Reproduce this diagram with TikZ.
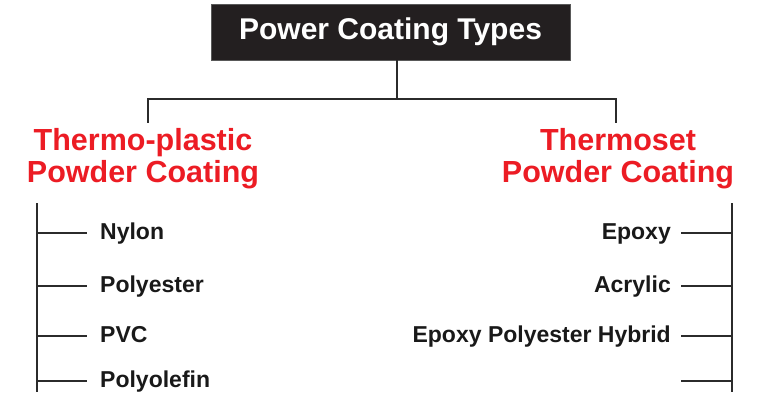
\documentclass[tikz,border=0pt]{standalone}
\usepackage{fontspec}
\setmainfont{Liberation Sans}
\definecolor{boxfill}{HTML}{231F20}
\definecolor{linecol}{HTML}{2B2B2B}
\definecolor{redtxt}{HTML}{EC1C24}
\begin{document}
\begin{tikzpicture}[x=1pt,y=-1pt,
  conn/.style={draw=linecol,line width=2.5pt},
  titlebox/.style={fill=boxfill,draw=gray!70!black,line width=0.8pt,text=white,
    minimum width=359pt,minimum height=56pt,inner sep=0pt,
    text height=21pt,text depth=5.5pt,font=\fontsize{30}{36}\selectfont\bfseries},
  cat/.style={text=redtxt,align=center,inner sep=0pt,
    font=\fontsize{30.5}{32}\selectfont\bfseries},
  item/.style={inner sep=0pt,text=black!90,font=\fontsize{23}{27}\selectfont\bfseries}]
\useasboundingbox (0,0) rectangle (768,401);
% title
\node[titlebox] (title) at (390.5,32) {Power Coating Types};
% categories
\node[cat] (tp) at (143,159) {Thermo-plastic\\Powder Coating};
\node[cat] (ts) at (618,159) {Thermoset\\Powder Coating};
% hub connector
\coordinate (hub) at (397,99);
\coordinate (ltop) at (148,123);
\coordinate (rtop) at (616,123);
\draw[conn] (title.south -| hub) -- (hub);
\draw[conn] (ltop) -- (ltop |- hub) -- (rtop |- hub) -- (rtop);
% left list
\node[item,anchor=base west] (nylon) at (100,239.5) {Nylon};
\node[item,anchor=base west] (poly) at (100,292.5) {Polyester};
\node[item,anchor=base west] (pvc) at (100,342.5) {PVC};
\node[item,anchor=base west] (pof) at (100,387.5) {Polyolefin};
\coordinate (lvt) at (37,203);
\coordinate (lvb) at (37,392);
\draw[conn] (lvt) -- (lvb);
\coordinate (l1) at (37,233);
\coordinate (l2) at (37,286);
\coordinate (l3) at (37,336);
\coordinate (l4) at (37,381);
\draw[conn] (l1) -- ([xshift=-13pt]nylon.west |- l1);
\draw[conn] (l2) -- ([xshift=-13pt]poly.west |- l2);
\draw[conn] (l3) -- ([xshift=-13pt]pvc.west |- l3);
\draw[conn] (l4) -- ([xshift=-13pt]pof.west |- l4);
% right list
\node[item,anchor=base east] (epoxy) at (671,239.5) {Epoxy};
\node[item,anchor=base east] (acryl) at (671,292.5) {Acrylic};
\node[item,anchor=base east] (eph) at (671,342.5) {Epoxy Polyester Hybrid};
\coordinate (rvt) at (732,203);
\coordinate (rvb) at (732,392);
\draw[conn] (rvt) -- (rvb);
\coordinate (r1) at (732,233);
\coordinate (r2) at (732,286);
\coordinate (r3) at (732,336);
\coordinate (r4) at (732,381);
\coordinate (r4end) at (681,381);
\draw[conn] (r1) -- ([xshift=10pt]epoxy.east |- r1);
\draw[conn] (r2) -- ([xshift=10pt]acryl.east |- r2);
\draw[conn] (r3) -- ([xshift=10pt]eph.east |- r3);
\draw[conn] (r4) -- (r4end);
\end{tikzpicture}
\end{document}
